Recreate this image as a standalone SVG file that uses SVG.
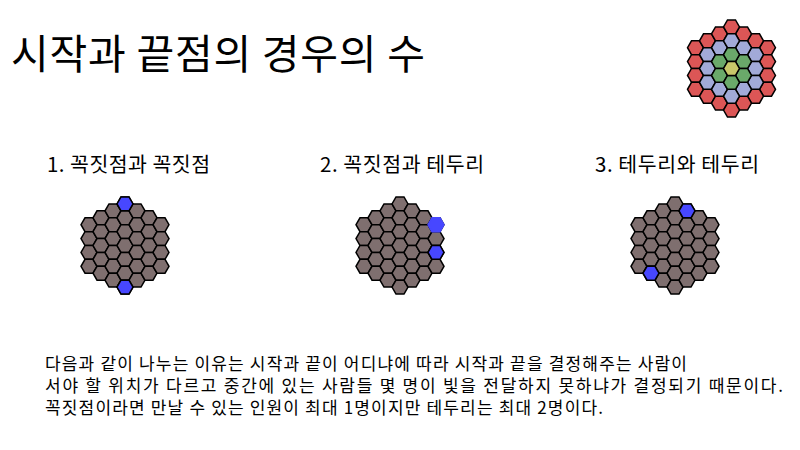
<svg xmlns="http://www.w3.org/2000/svg" xmlns:xlink="http://www.w3.org/1999/xlink" width="800" height="450" viewBox="0 0 800 450">
<style>
text{font-family:"Noto Sans CJK KR","Noto Sans",sans-serif;fill:#000}
.title{font-size:41px}
.label{font-size:20.5px}
.body{font-size:17px}
.g{fill:#7f6f6f;stroke:#000;stroke-width:1.5}
.b{fill:#4747ff;stroke:#000;stroke-width:1.5}
.bb{fill:#4747ff;stroke:#4747ff;stroke-width:1.5}
.r3{fill:#dc5656;stroke:#000;stroke-width:1.5}
.r2{fill:#a2aad8;stroke:#000;stroke-width:1.5}
.r1{fill:#6aa96a;stroke:#000;stroke-width:1.5}
.r0{fill:#c8c86a;stroke:#000;stroke-width:1.5}
</style>
<defs>
<polygon id="hx" points="8,0 4,6.93 -4,6.93 -8,0 -4,-6.93 4,-6.93"/>
<g id="board">
<use href="#hx" x="-36" y="-20.78"/><use href="#hx" x="-36" y="-6.93"/><use href="#hx" x="-36" y="6.93"/><use href="#hx" x="-36" y="20.78"/>
<use href="#hx" x="-24" y="-27.71"/><use href="#hx" x="-24" y="-13.86"/><use href="#hx" x="-24" y="0"/><use href="#hx" x="-24" y="13.86"/><use href="#hx" x="-24" y="27.71"/>
<use href="#hx" x="-12" y="-34.64"/><use href="#hx" x="-12" y="-20.78"/><use href="#hx" x="-12" y="-6.93"/><use href="#hx" x="-12" y="6.93"/><use href="#hx" x="-12" y="20.78"/><use href="#hx" x="-12" y="34.64"/>
<use href="#hx" x="0" y="-41.57"/><use href="#hx" x="0" y="-27.71"/><use href="#hx" x="0" y="-13.86"/><use href="#hx" x="0" y="0"/><use href="#hx" x="0" y="13.86"/><use href="#hx" x="0" y="27.71"/><use href="#hx" x="0" y="41.57"/>
<use href="#hx" x="12" y="-34.64"/><use href="#hx" x="12" y="-20.78"/><use href="#hx" x="12" y="-6.93"/><use href="#hx" x="12" y="6.93"/><use href="#hx" x="12" y="20.78"/><use href="#hx" x="12" y="34.64"/>
<use href="#hx" x="24" y="-27.71"/><use href="#hx" x="24" y="-13.86"/><use href="#hx" x="24" y="0"/><use href="#hx" x="24" y="13.86"/><use href="#hx" x="24" y="27.71"/>
<use href="#hx" x="36" y="-20.78"/><use href="#hx" x="36" y="-6.93"/><use href="#hx" x="36" y="6.93"/><use href="#hx" x="36" y="20.78"/>
</g>
</defs>
<rect width="800" height="450" fill="#fff"/>
<text class="title" x="11" y="69" textLength="414" lengthAdjust="spacing">시작과 끝점의 경우의 수</text>

<g id="legend" transform="translate(731.5,68.5)">
<g class="r3">
<use href="#hx" x="-36" y="-20.78"/><use href="#hx" x="-36" y="-6.93"/><use href="#hx" x="-36" y="6.93"/><use href="#hx" x="-36" y="20.78"/>
<use href="#hx" x="36" y="-20.78"/><use href="#hx" x="36" y="-6.93"/><use href="#hx" x="36" y="6.93"/><use href="#hx" x="36" y="20.78"/>
<use href="#hx" x="-24" y="-27.71"/><use href="#hx" x="-24" y="27.71"/><use href="#hx" x="24" y="-27.71"/><use href="#hx" x="24" y="27.71"/>
<use href="#hx" x="-12" y="-34.64"/><use href="#hx" x="-12" y="34.64"/><use href="#hx" x="12" y="-34.64"/><use href="#hx" x="12" y="34.64"/>
<use href="#hx" x="0" y="-41.57"/><use href="#hx" x="0" y="41.57"/>
</g>
<g class="r2">
<use href="#hx" x="-24" y="-13.86"/><use href="#hx" x="-24" y="0"/><use href="#hx" x="-24" y="13.86"/>
<use href="#hx" x="24" y="-13.86"/><use href="#hx" x="24" y="0"/><use href="#hx" x="24" y="13.86"/>
<use href="#hx" x="-12" y="-20.78"/><use href="#hx" x="-12" y="20.78"/><use href="#hx" x="12" y="-20.78"/><use href="#hx" x="12" y="20.78"/>
<use href="#hx" x="0" y="-27.71"/><use href="#hx" x="0" y="27.71"/>
</g>
<g class="r1">
<use href="#hx" x="-12" y="-6.93"/><use href="#hx" x="-12" y="6.93"/><use href="#hx" x="12" y="-6.93"/><use href="#hx" x="12" y="6.93"/>
<use href="#hx" x="0" y="-13.86"/><use href="#hx" x="0" y="13.86"/>
</g>
<use class="r0" href="#hx" x="0" y="0"/>
</g>

<g id="case1">
<text class="label" x="47" y="172" textLength="163" lengthAdjust="spacing">1. 꼭짓점과 꼭짓점</text>
<use class="g" href="#board" x="125" y="245.5"/>
<use class="b" href="#hx" x="125" y="203.93"/>
<use class="b" href="#hx" x="125" y="287.07"/>
</g>

<g id="case2">
<text class="label" x="320" y="172" textLength="164" lengthAdjust="spacing">2. 꼭짓점과 테두리</text>
<use class="g" href="#board" x="400" y="245.5"/>
<use class="bb" href="#hx" x="436" y="224.72"/>
<use class="b" href="#hx" x="436" y="252.43"/>
</g>

<g id="case3">
<text class="label" x="595" y="172" textLength="164" lengthAdjust="spacing">3. 테두리와 테두리</text>
<use class="g" href="#board" x="675" y="245.5"/>
<use class="b" href="#hx" x="687" y="210.86"/>
<use class="b" href="#hx" x="651" y="273.21"/>
</g>

<g id="note">
<text class="body" x="45" y="370" textLength="642" lengthAdjust="spacing">다음과 같이 나누는 이유는 시작과 끝이 어디냐에 따라 시작과 끝을 결정해주는 사람이</text>
<text class="body" x="45" y="392" textLength="738" lengthAdjust="spacing">서야 할 위치가 다르고 중간에 있는 사람들 몇 명이 빛을 전달하지 못하냐가 결정되기 때문이다.</text>
<text class="body" x="45" y="414" textLength="558" lengthAdjust="spacing">꼭짓점이라면 만날 수 있는 인원이 최대 1명이지만 테두리는 최대 2명이다.</text>
</g>
</svg>
